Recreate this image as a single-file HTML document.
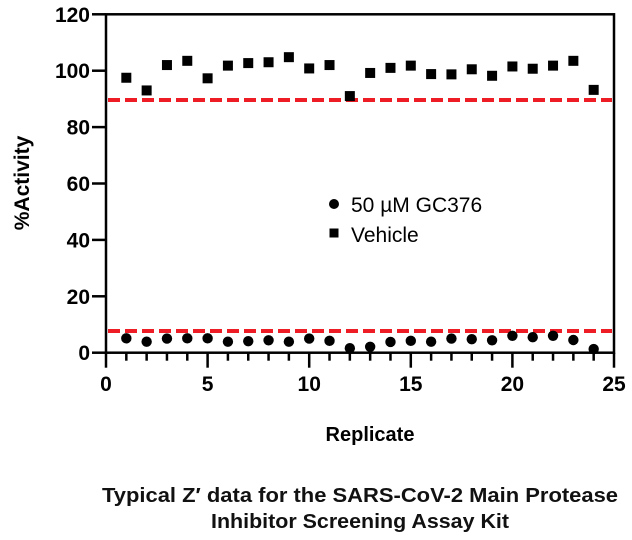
<!DOCTYPE html>
<html><head><meta charset="utf-8"><style>
html,body{margin:0;padding:0;background:#fff;}
svg{display:block;}
text{font-family:"Liberation Sans",Arial,sans-serif;}
</style></head><body>
<svg width="632" height="540" viewBox="0 0 632 540" xmlns="http://www.w3.org/2000/svg">
<g stroke="#000" stroke-width="2.5" fill="none">
<rect x="106" y="14.3" width="508" height="338.4"/>
</g>
<g id="ticks" stroke="#000" stroke-width="2.5"></g>
<g font-size="21" font-weight="bold" text-anchor="end" id="ylab"></g>
<g font-size="21" font-weight="bold" text-anchor="middle" id="xlab"></g>
<line x1="108" y1="100" x2="612" y2="100" stroke="#ee1c25" stroke-width="4" stroke-dasharray="12,5"/>
<line x1="108" y1="331" x2="612" y2="331" stroke="#ee1c25" stroke-width="4" stroke-dasharray="12,5"/>
<g id="pts"></g>
<circle cx="334" cy="204" r="5" fill="#000"/>
<text x="351" y="212" font-size="21">50 µM GC376</text>
<rect x="329.5" y="228.5" width="9" height="9" fill="#000"/>
<text x="351" y="242" font-size="21">Vehicle</text>
<text x="370" y="441" font-size="20" font-weight="bold" text-anchor="middle">Replicate</text>
<text transform="translate(29,183) rotate(-90)" font-size="21" font-weight="bold" text-anchor="middle">%Activity</text>
<text x="360" y="502" font-size="20" font-weight="bold" text-anchor="middle" textLength="516" lengthAdjust="spacingAndGlyphs" fill="#111">Typical Z′ data for the SARS-CoV-2 Main Protease</text>
<text x="360" y="528" font-size="20" font-weight="bold" text-anchor="middle" textLength="298" lengthAdjust="spacingAndGlyphs" fill="#111">Inhibitor Screening Assay Kit</text>
</svg>
<script>
var NS="http://www.w3.org/2000/svg";
function X(v){return 106+v*20.32;} function Y(v){return 352.7-v*2.82;}
function el(t,a,p){var e=document.createElementNS(NS,t);for(var k in a)e.setAttribute(k,a[k]);document.getElementById(p).appendChild(e);return e;}
for(var i=0;i<=25;i++){var maj=i%5==0;el('line',{x1:X(i),x2:X(i),y1:352.7,y2:352.7+(maj?15:8)},'ticks');
 if(maj){var t=el('text',{x:X(i),y:391},'xlab');t.textContent=i;}}
for(var v=0;v<=120;v+=20){el('line',{x1:92,x2:106,y1:Y(v),y2:Y(v)},'ticks');var t=el('text',{x:90,y:Y(v)+7.5},'ylab');t.textContent=v;}
var veh=[97.5,93,102,103.5,97.3,101.8,102.7,103,104.8,100.8,102,91,99.2,101,101.8,98.8,98.7,100.5,98.2,101.5,100.7,101.8,103.5,93.2];
var gc=[5.1,3.9,5,5.1,5.1,3.9,4.1,4.4,3.9,5,4.2,1.6,2.1,3.8,4.2,3.9,5,4.8,4.4,6,5.5,6,4.5,1.3];
for(var i=0;i<24;i++){el('rect',{x:X(i+1)-5,y:Y(veh[i])-5,width:10,height:10,fill:'#000'},'pts');
 el('circle',{cx:X(i+1),cy:Y(gc[i]),r:5.2,fill:'#000'},'pts');}
</script>
</body></html>
